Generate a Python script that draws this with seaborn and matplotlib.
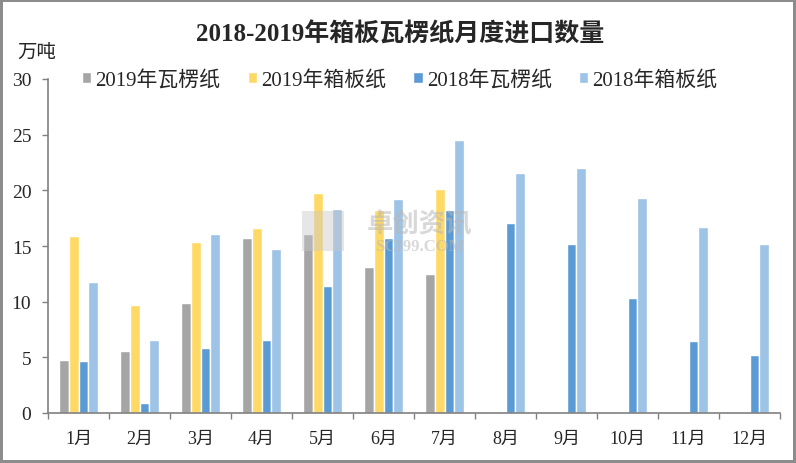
import numpy as np
import pandas as pd
import matplotlib
matplotlib.use("Agg")
import matplotlib.pyplot as plt
import seaborn as sns
from matplotlib.ticker import MultipleLocator, FixedLocator
from matplotlib.patches import Rectangle

months = ["1月", "2月", "3月", "4月", "5月", "6月", "7月", "8月", "9月", "10月", "11月", "12月"]
series_names = ["2019年瓦楞纸", "2019年箱板纸", "2018年瓦楞纸", "2018年箱板纸"]
nan = np.nan
wl_2019 = [4.8, 5.6, 9.9, 15.7, 16.1, 13.1, 12.5, nan, nan, nan, nan, nan]
xb_2019 = [15.9, 9.7, 15.4, 16.6, 19.8, 18.2, 20.1, nan, nan, nan, nan, nan]
wl_2018 = [4.7, 0.9, 5.8, 6.6, 11.4, 15.7, 18.2, 17.1, 15.2, 10.3, 6.5, 5.2]
xb_2018 = [11.8, 6.6, 16.1, 14.7, 18.3, 19.2, 24.5, 21.6, 22.0, 19.3, 16.7, 15.2]
colors = ["#A5A5A5", "#FFD966", "#5B9BD5", "#9DC3E6"]

rows = []
for name, vals in zip(series_names, [wl_2019, xb_2019, wl_2018, xb_2018]):
    for m, v in zip(months, vals):
        rows.append({"month": m, "series": name, "value": v})
df = pd.DataFrame(rows)

sns.set_style("white")
plt.rcParams["font.family"] = ["Liberation Serif", "Noto Sans CJK SC", "DejaVu Sans"]

fig = plt.figure(figsize=(7.96, 4.64), dpi=100)
fig.patch.set_edgecolor("#8c8c8c")
fig.patch.set_linewidth(3)
ax = fig.add_axes([48 / 796, 1 - 414 / 464, 732 / 796, 334 / 464])

sns.barplot(data=df, x="month", y="value", hue="series", order=months,
            hue_order=series_names, palette=colors, width=0.64,
            saturation=1, errorbar=None, ax=ax)

ax.set_ylim(0, 30)
ax.set_xlim(-0.5, 11.5)
ax.yaxis.set_major_locator(MultipleLocator(5))
ax.xaxis.set_minor_locator(FixedLocator(np.arange(-0.5, 12, 1)))
ax.tick_params(axis="x", which="major", length=0, pad=12, labelsize=13)
ax.tick_params(axis="x", which="minor", length=4, color="#808080", width=1, direction="out")
ax.tick_params(axis="y", length=4, color="#808080", width=1, direction="out", labelsize=14, pad=8)
ax.xaxis.set_tick_params(which="minor", bottom=True)
ax.yaxis.set_tick_params(left=True)
for s in ["top", "right"]:
    ax.spines[s].set_visible(False)
for s in ["left", "bottom"]:
    ax.spines[s].set_color("#808080")
    ax.spines[s].set_linewidth(1.2)
ax.set_xlabel("")
ax.set_ylabel("")

# watermark (semi-transparent, drawn over the bars)
fig.patches.append(Rectangle((302 / 796, 1 - 252 / 464), 42 / 796, 40 / 464,
                             transform=fig.transFigure, facecolor="#c8c8c8",
                             edgecolor="none", alpha=0.45, zorder=5))
fig.text(420 / 796, 1 - 224 / 464, "卓创资讯", fontsize=19, color="#b8b8b8", alpha=0.55,
         ha="center", va="center", fontweight="bold", zorder=5)
fig.text(420 / 796, 1 - 247 / 464, "SCI99.COM", fontsize=12, color="#b8b8b8", alpha=0.55,
         ha="center", va="center", fontweight="bold", zorder=5)

leg = ax.legend(loc="center left", bbox_to_anchor=(34 / 732, 0.997), ncol=4, frameon=False,
                fontsize=15, handlelength=0.45, handleheight=0.45, handletextpad=0.2,
                columnspacing=1.3, borderaxespad=0, borderpad=0)

fig.text(37 / 796, 1 - 53 / 464, "万吨", fontsize=14, ha="center", va="center")
fig.text(400 / 796, 1 - 34 / 464, "2018-2019年箱板瓦楞纸月度进口数量", fontsize=18,
         fontweight="bold", ha="center", va="center")

fig.savefig("out.png", dpi=100)
